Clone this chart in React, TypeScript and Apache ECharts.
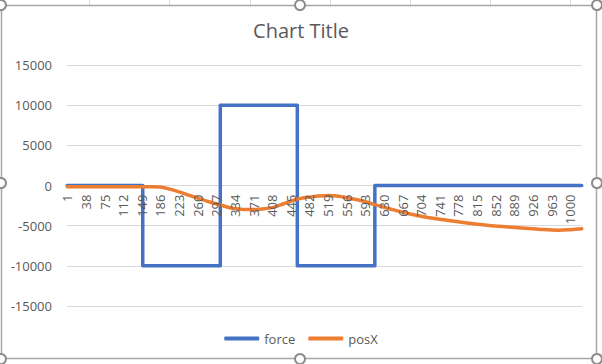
import React, { useEffect, useRef } from "react";
import * as echarts from "echarts";

// category labels 1..1023 (sample index)
const categoryCount = 1023;
const categories: string[] = Array.from({ length: categoryCount }, (_, i) => String(i + 1));

// force: step function given by its corner points [category, value]
const forcePoints: [number, number][] = [
  [1, 0],
  [151, 0],
  [151, -10000],
  [305, -10000],
  [305, 10000],
  [458, 10000],
  [458, -10000],
  [612, -10000],
  [612, 0],
  [1023, 0],
];

// posX: values [category, value]
const posXPoints: [number, number][] = [
  [1, -150],
  [75, -150],
  [149, -150],
  [170, -150],
  [186, -200],
  [205, -450],
  [225, -830],
  [245, -1250],
  [264, -1650],
  [284, -2050],
  [304, -2400],
  [324, -2770],
  [344, -2950],
  [364, -3000],
  [384, -2950],
  [408, -2750],
  [430, -2300],
  [445, -1950],
  [465, -1600],
  [484, -1420],
  [500, -1300],
  [521, -1260],
  [540, -1330],
  [557, -1530],
  [575, -1750],
  [594, -2000],
  [610, -2350],
  [641, -2900],
  [680, -3520],
  [720, -4020],
  [759, -4350],
  [799, -4690],
  [839, -4980],
  [858, -5060],
  [898, -5260],
  [938, -5450],
  [977, -5560],
  [1000, -5500],
  [1023, -5380],
];

const yTicks = { min: -15000, max: 15000, interval: 5000 };
const seriesNames = ["force", "posX"];
const titleText = "Chart Title";

const FONT = "'Open Sans', sans-serif";
const GRAY = "#595959";

const GRID = { left: 67, right: 20, top: 65, bottom: 58 };
const CHART_H = 364;

export default function App() {
  const ref = useRef<HTMLDivElement>(null);

  useEffect(() => {
    if (!ref.current) return;
    const chart = echarts.init(ref.current, undefined, { renderer: "svg" });

    const plotH = CHART_H - GRID.top - GRID.bottom;
    // move the category axis from the plot bottom up to the y = 0 line
    const zeroOffset = -plotH * ((0 - yTicks.min) / (yTicks.max - yTicks.min));

    const handlePos: [number, number][] = [
      [1, 5], [300, 5], [597, 5],
      [1, 183], [597, 183],
      [1, 359], [300, 359], [597, 359],
    ];
    const sheetLinesX = [89, 169, 250, 330, 410, 490, 570];

    const graphic: any[] = [
      ...sheetLinesX.map((x) => ({
        type: "line",
        z: 1,
        shape: { x1: x + 0.5, y1: 0, x2: x + 0.5, y2: 5 },
        style: { stroke: "#dadada", lineWidth: 1 },
      })),
      {
        type: "rect",
        z: 1,
        shape: { x: 1.5, y: 5.5, width: 595, height: 353 },
        style: { fill: "none", stroke: "#a6a6a6", lineWidth: 1.5 },
        silent: true,
      },
      ...handlePos.map(([x, y]) => ({
        type: "circle",
        z: 100,
        shape: { cx: x, cy: y, r: 5 },
        style: { fill: "#ffffff", stroke: "#8c8c8c", lineWidth: 2 },
      })),
    ];

    chart.setOption({
      animation: false,
      backgroundColor: "#ffffff",
      textStyle: { fontFamily: FONT },
      title: {
        text: titleText,
        left: "center",
        top: 15,
        textStyle: { fontFamily: FONT, fontSize: 20, fontWeight: "normal", color: GRAY },
      },
      legend: {
        data: seriesNames,
        bottom: 14,
        left: "center",
        icon: "roundRect",
        itemWidth: 35,
        itemHeight: 4,
        itemGap: 13,
        textStyle: { fontFamily: FONT, fontSize: 13, color: GRAY },
      },
      grid: GRID,
      xAxis: {
        type: "category",
        data: categories,
        boundaryGap: true,
        position: "bottom",
        offset: zeroOffset,
        z: 5,
        axisLine: { show: false, onZero: false },
        axisTick: { show: false },
        axisLabel: {
          interval: 36,
          rotate: 90,
          margin: 9,
          fontFamily: FONT,
          fontSize: 13,
          color: GRAY,
        },
        splitLine: { show: false },
      },
      yAxis: {
        type: "value",
        min: yTicks.min,
        max: yTicks.max,
        interval: yTicks.interval,
        axisLine: { show: false },
        axisTick: { show: false },
        axisLabel: {
          margin: 15,
          fontFamily: FONT,
          fontSize: 13,
          color: GRAY,
          formatter: (v: number) => String(v),
        },
        splitLine: { lineStyle: { color: "#d9d9d9", width: 1 } },
      },
      series: [
        {
          name: seriesNames[0],
          type: "line",
          data: forcePoints.map(([c, v]) => [c - 1, v]),
          symbol: "none",
          color: "#4472C4",
          lineStyle: { width: 3.5, color: "#4472C4", join: "round", cap: "round" },
        },
        {
          name: seriesNames[1],
          type: "line",
          data: posXPoints.map(([c, v]) => [c - 1, v]),
          symbol: "none",
          smooth: 0.4,
          color: "#ED7D31",
          lineStyle: { width: 3.5, color: "#ED7D31", join: "round", cap: "round" },
        },
      ],
      graphic,
    });

    return () => chart.dispose();
  }, []);

  return (
    <div
      ref={ref}
      style={{ position: "fixed", left: 0, top: 0, width: 602, height: 364 }}
    />
  );
}
